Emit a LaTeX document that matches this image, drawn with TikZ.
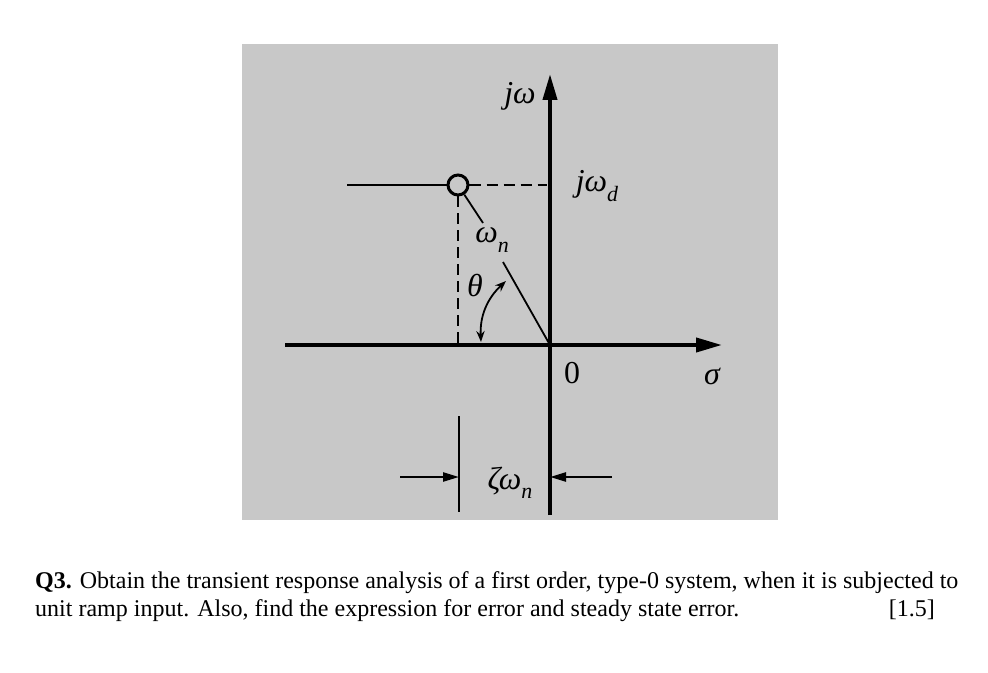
\documentclass[tikz,border=0pt]{standalone}
\usepackage{fontspec}
\setmainfont{Liberation Serif}
\usetikzlibrary{arrows.meta}
\newcommand{\mysub}[1]{\raisebox{-0.3em}{\fontsize{22}{22}\selectfont #1}}
\tikzset{axis/.style={line width=4pt,-{Triangle[length=26bp,width=14bp]}},
lbl/.style={font=\fontsize{32}{32}\selectfont\itshape},
dim/.style={line width=2.4pt,-{Triangle[length=16bp,width=9bp]}},
txt/.style={font=\fontsize{24.1}{24}\selectfont,inner sep=0}}
\begin{document}
\begin{tikzpicture}[x=1bp,y=-1bp]
\useasboundingbox (0,0) rectangle (988,673);
\fill[fill={rgb,255:red,200;green,200;blue,200}] (242,44) rectangle (778,520);
\coordinate (O) at (550,345);
\coordinate (ytop) at (550,74);
\coordinate (ybot) at (550,515);
\coordinate (xl) at (285,345);
\coordinate (xr) at (722,345);
\draw[line width=4pt] (ybot) -- (O);
\draw[axis] (O) -- (ytop);
\draw[axis] (xl) -- (xr);
\node[circle,draw,line width=3pt,minimum size=20bp,inner sep=0] (pole) at (458,185) {};
\coordinate (lend) at (347,185);
\coordinate (dend) at (547,185);
\coordinate (foot) at (458,345);
\draw[line width=3pt] (lend) -- (pole.west);
\draw[line width=2.4pt,dash pattern=on 11bp off 6bp] (pole.east) -- (dend);
\draw[line width=2.4pt,dash pattern=on 11bp off 6bp] (pole.south) -- (foot);
\node[lbl] (wn) at (492,240) {ω\mysub{n}};
\draw[line width=1.8pt] (pole) -- (483,223);
\draw[line width=1.8pt] (503,262) -- (O);
\node[lbl] (th) at (475,286) {θ};
\draw[line width=1.8pt,{Stealth[length=11bp]}-{Stealth[length=11bp]}] (481,342) to[bend left=25] (506,281);
\node[lbl] (jw) at (520,96) {jω};
\node[lbl] (jwd) at (597,186) {jω\mysub{d}};
\node[lbl,font=\fontsize{32}{32}\selectfont] (zero) at (572,373) {0};
\node[lbl] (sig) at (712,376) {σ};
\coordinate (tt) at (459,416);
\coordinate (tb) at (459,512);
\draw[line width=2.4pt] (tt) -- (tb);
\coordinate (la) at (400,477);
\coordinate (ra) at (612,477);
\draw[dim] (la) -- (tb |- la);
\draw[dim] (ra) -- (ybot |- ra);
\node[lbl] (zw) at (510,483) {ζω\mysub{n}};
\node[txt,anchor=base west] (q1) at (35,588) {\textbf{Q3.} Obtain the transient response analysis of a first order, type-0 system, when it is subjected to};
\node[txt,anchor=base west] (q2) at (35,616) {unit ramp input. Also, find the expression for error and steady state error.};
\node[txt,anchor=base east] (mk) at (935,616) {[1.5]};
\end{tikzpicture}
\end{document}
